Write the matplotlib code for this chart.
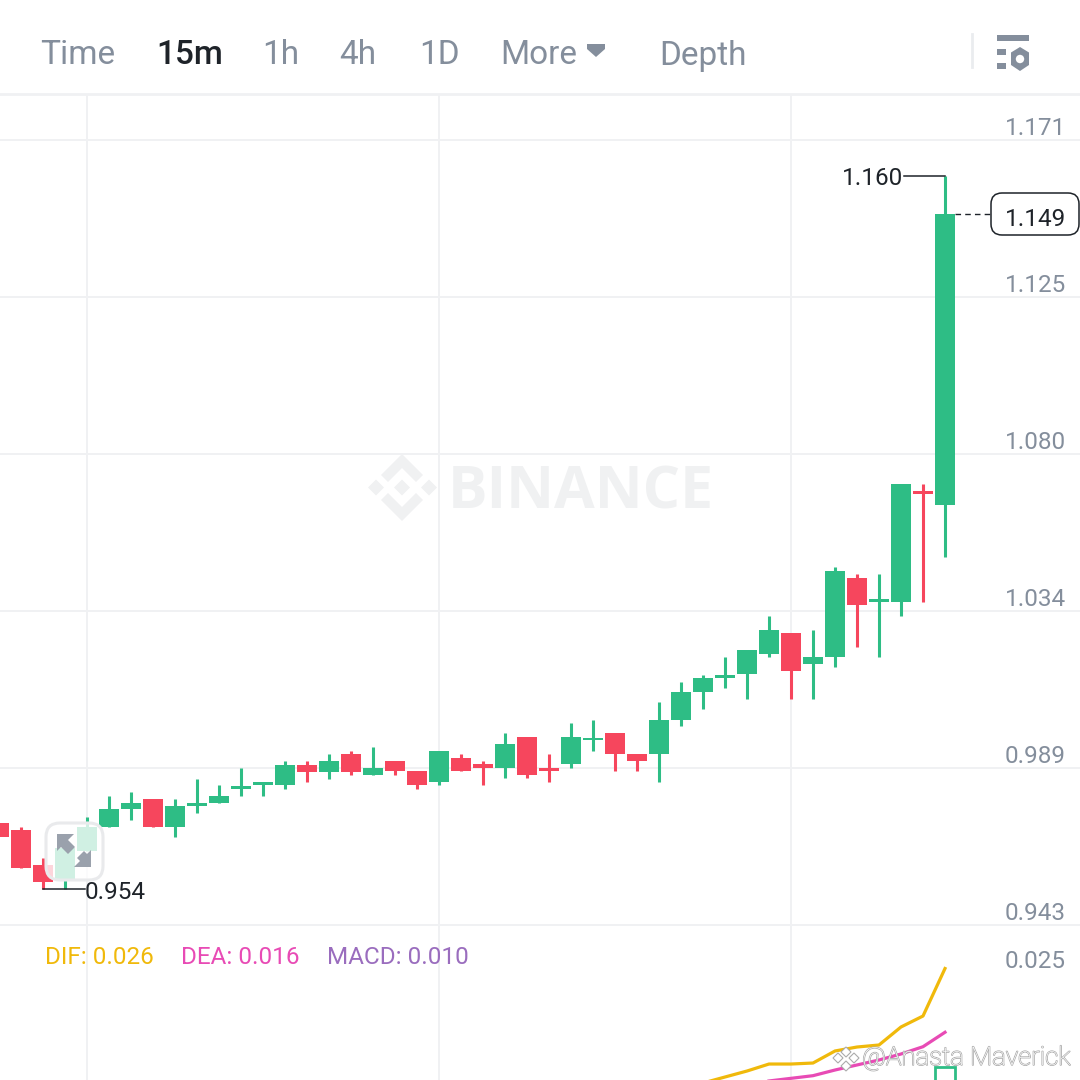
import matplotlib
matplotlib.use("Agg")
import matplotlib.pyplot as plt
import matplotlib.patheffects as pe
from matplotlib.patches import FancyBboxPatch, Polygon, Rectangle, Circle

# ---------- data ----------
direction = ["R","R","R","G","G","G","G","R","G","G","G","G","G","G","R","G","R","G","R","R","G","R","R","G","R","R","G","G","R","R","G","G","G","G","G","G","R","G","G","R","G","G","R","G"]
highs = [.9735,.9715,.9625,.9654,.9744,.9805,.9816,.9796,.9796,.9854,.9837,.9886,.9845,.9906,.9906,.9927,.9935,.9947,.9906,.9877,.9935,.9927,.9906,.9988,.9976,.9927,1.0017,1.0025,.9988,.9927,1.0078,1.0136,1.0156,1.0208,1.0229,1.0328,1.0278,1.0287,1.0470,1.0449,1.0449,1.0711,1.0711,1.1605]
tops  = [.9726,.9706,.9604,.9654,.9715,.9767,.9784,.9796,.9776,.9784,.9805,.9834,.9845,.9895,.9895,.9906,.9927,.9886,.9906,.9877,.9935,.9915,.9898,.9956,.9976,.9886,.9976,.9973,.9988,.9927,1.0025,1.0107,1.0147,1.0156,1.0229,1.0287,1.0278,1.0208,1.0458,1.0438,1.0377,1.0711,1.0691,1.1495]
bots  = [.9686,.9596,.9555,.9561,.9645,.9715,.9767,.9715,.9715,.9776,.9784,.9825,.9837,.9837,.9874,.9874,.9874,.9866,.9877,.9837,.9845,.9877,.9886,.9886,.9866,.9877,.9898,.9967,.9927,.9906,.9927,1.0025,1.0107,1.0147,1.0159,1.0217,1.0168,1.0188,1.0208,1.0359,1.0368,1.0368,1.0682,1.0650]
lows  = [.9648,.9596,.9535,.9535,.9645,.9715,.9735,.9715,.9686,.9755,.9784,.9805,.9805,.9825,.9845,.9854,.9866,.9866,.9866,.9825,.9837,.9877,.9837,.9857,.9857,.9845,.9886,.9935,.9877,.9877,.9845,1.0008,1.0057,1.0118,1.0086,1.0208,1.0086,1.0086,1.0179,1.0237,1.0208,1.0328,1.0368,1.0499]

price_ticks  = [1.1710,1.1254,1.0798,1.0342,0.9886,0.9430]
price_labels = ["1.171","1.125","1.080","1.034","0.989","0.943"]
tabs = ["Time","15m","1h","4h","1D","More","Depth"]

macd_idx = [32,33,34,35,36,37,38,39,40,41,42,43]
dif = [.0077,.00865,.0096,.01071,.01071,.01087,.01278,.01341,.01373,.01659,.01833,.02587]
dea_idx = [35,36,37,38,39,40,41,42,43]
dea = [.00802,.00844,.00886,.00976,.01056,.01135,.0123,.01346,.01575]
hist_idx = [42,43]
hist = [.0049,.0103]

# ---------- palette ----------
GREEN, RED, GREY, DARK, GRID = "#2EBD85", "#F6465D", "#848E9C", "#1E2329", "#F0F1F3"
FONT = "Roboto"
plt.rcParams["font.family"] = FONT

W = 1080
fig = plt.figure(figsize=(10.8, 10.8), dpi=100, facecolor="white")
def mk(top, bot, z):
    a = fig.add_axes([0, 1 - bot / W, 1, (bot - top) / W], zorder=z)
    a.set_axis_off()
    return a

# x: index i is centred at -1+22*i pixels
xlim = (1 / 22, 1081 / 22)

# background layer in pixel coordinates (watermark)
bg = mk(0, W, 0); bg.set_xlim(0, W); bg.set_ylim(W, 0)
WM = "#F0F1F2"
for cx in (376, 402, 429):
    bg.add_patch(Polygon([(cx-8,487.5),(cx,479.5),(cx+8,487.5),(cx,495.5)], fc=WM, ec="none"))
bg.add_patch(Polygon([(402,454),(423,475),(416,482),(402,468),(388,482),(381,475)], fc=WM, ec="none"))
bg.add_patch(Polygon([(402,521),(423,500),(416,493),(402,507),(388,493),(381,500)], fc=WM, ec="none"))
bg.text(448, 493, "BINANCE", fontsize=42.5, fontweight="bold", color=WM, va="center", ha="left", family="Open Sans")

# main price panel
ax = mk(95, 925, 1)
ax.set_xlim(*xlim)
ax.set_ylim(0.943, 0.943 + 830 * 0.00029045)
ax.patch.set_alpha(0)
for p, lab in zip(price_ticks, price_labels):
    ax.axhline(p, color=GRID, lw=1.4, zorder=1, clip_on=False)
    ax.annotate(lab, (1066, p), xycoords=("figure pixels", "data"), xytext=(0, 12), textcoords="offset pixels",
                ha="right", va="center", fontsize=17.5, color=GREY, annotation_clip=False)
for v in (4, 20, 36):
    ax.axvline(v, color=GRID, lw=1.4, zorder=1)
for i, d in enumerate(direction):
    c = GREEN if d == "G" else RED
    ax.vlines(i, lows[i], highs[i], color=c, lw=2.2, zorder=3)
    ax.bar(i, tops[i] - bots[i], 0.87, bots[i], color=c, zorder=3)

# extreme / last price markers
ax.plot([41.14, 43], [highs[43]] * 2, color=DARK, lw=1.1, zorder=4)
ax.plot([2, 3.9], [lows[2]] * 2, color=DARK, lw=1.1, zorder=4)
ax.plot([43.45, 45.1], [tops[43]] * 2, color=DARK, lw=1, ls=(0, (4, 3)), zorder=4)
ax.text(41.1, highs[43] - 0.0006, "1.160", ha="right", va="center", fontsize=17.5, color=DARK, zorder=5)
ax.text(3.9, lows[2] - 0.0012, "0.954", ha="left", va="center", fontsize=17.5, color=DARK, zorder=5)

# MACD panel
mx = mk(925, W, 1)
mx.set_xlim(*xlim)
mx.set_ylim((1131.5 - 1080) / 6300, (1131.5 - 925) / 6300)
mx.patch.set_alpha(0)
for v in (4, 20, 36):
    mx.axvline(v, color=GRID, lw=1.4, zorder=1)
mx.bar(hist_idx, hist, 0.87, fc="white", ec=GREEN, lw=2, zorder=2)
mx.plot(macd_idx, dif, color="#F0B90B", lw=2.3, zorder=3)
mx.plot(dea_idx, dea, color="#E84BB5", lw=2.3, zorder=3)

# chrome layer in pixel coordinates
ov = mk(0, W, 5); ov.set_xlim(0, W); ov.set_ylim(W, 0); ov.patch.set_alpha(0)
ov.plot([0, W], [94, 94], color=GRID, lw=2)
tab_x = [40, 156, 262, 339, 419, 500, 659]
for t, x in zip(tabs, tab_x):
    active = t == "15m"
    ov.text(x, 55.5, t, fontsize=24, color=DARK if active else GREY, ha="left", va="center",
            fontweight="medium" if active else "normal")
ov.add_patch(Polygon([(587,44),(605,44),(605,49),(596,57),(587,49)], fc=GREY, ec="none"))
ov.plot([972, 972], [34, 67], color="#EAECEF", lw=2)
ov.add_patch(Rectangle((997, 35), 32, 5.5, fc=GREY, ec="none"))
ov.add_patch(Rectangle((997, 49), 9, 6, fc=GREY, ec="none"))
ov.add_patch(Rectangle((997, 63), 9, 6, fc=GREY, ec="none"))
ov.add_patch(Polygon([(1020,47),(1029,52.5),(1029,65),(1020,71),(1011,65),(1011,52.5)], fc=GREY, ec="none"))
ov.add_patch(Circle((1020, 59), 4.2, fc="white", ec="none"))

# last price pill
ov.add_patch(FancyBboxPatch((991, 193), 88, 42, boxstyle="round,pad=0,rounding_size=11",
                            fc="white", ec=DARK, lw=1.1))
ov.text(1036, 219.5, "1.149", fontsize=17.5, color=DARK, ha="center", va="center")

# legend
for s, x, c in [("DIF: 0.026", 45, "#F0B90B"), ("DEA: 0.016", 181, "#E84BB5"), ("MACD: 0.010", 327, "#9A6DBE")]:
    ov.text(x, 957.5, s, fontsize=17.5, color=c, ha="left", va="center")
ov.text(1066, 962, "0.025", fontsize=17.5, color=GREY, ha="right", va="center")

# expand button
ov.add_patch(FancyBboxPatch((46, 823), 57, 57, boxstyle="round,pad=0,rounding_size=14",
                            fc=(1, 1, 1, 0.78), ec="#E9EAEC", lw=2.2))
ov.add_patch(Polygon([(57,834),(74,834),(68,840),(75,847),(68,854),(61,847),(57,851)], fc="#9AA1AC", ec="none"))
ov.add_patch(Polygon([(91,867),(74,867),(80,861),(77,858),(84,851),(87,854),(91,850)], fc="#9AA1AC", ec="none"))

# author watermark
t = ov.text(862, 1058, "@Anasta Maverick", fontsize=18.6, color="white", ha="left", va="center", fontweight="light")
t.set_path_effects([pe.Stroke(linewidth=1.0, foreground="#ABABAB"), pe.Normal()])
for cx, cy in [(846, 1052), (838, 1058), (854, 1058), (846, 1066)]:
    ov.add_patch(Polygon([(cx-5,cy),(cx,cy-5),(cx+5,cy),(cx,cy+5)], fc="white", ec="#ABABAB", lw=0.8))

fig.savefig("out.png", dpi=100)
